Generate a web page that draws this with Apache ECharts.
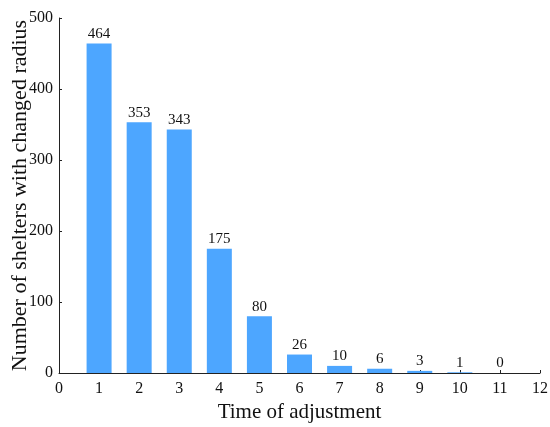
<!DOCTYPE html>
<html><head><meta charset="utf-8">
<script src="https://cdn.jsdelivr.net/npm/echarts@6/dist/echarts.min.js"></script>
<style>html,body{margin:0;padding:0;background:#fff}#c{width:550px;height:427px}</style>
</head><body><div id="c"></div>
<script>
const adjustmentTimes = [1,2,3,4,5,6,7,8,9,10,11];
const shelterCounts = [464,353,343,175,80,26,10,6,3,1,0];
const xTicks = [0,1,2,3,4,5,6,7,8,9,10,11,12];
const yTicks = [0,100,200,300,400,500];
const font = '"Liberation Serif","DejaVu Serif",serif';
const chart = echarts.init(document.getElementById('c'));
chart.setOption({
  animation:false,
  backgroundColor:'#fff',
  grid:{left:59,right:10,top:18,bottom:54,containLabel:false,outerBoundsMode:'none'},
  xAxis:{type:'value',min:0,max:12,interval:1,
    name:'Time of adjustment',nameLocation:'middle',nameGap:29,nameMoveOverlap:false,
    nameTextStyle:{fontFamily:font,fontSize:21,color:'#111'},
    axisLine:{show:true,lineStyle:{color:'#222',width:1}},
    axisTick:{show:true,inside:true,length:3,lineStyle:{color:'#222'}},
    axisLabel:{fontFamily:font,fontSize:16,color:'#111',margin:8},
    splitLine:{show:false}},
  yAxis:{type:'value',min:0,max:500,interval:100,
    name:'Number of shelters with changed radius',nameLocation:'middle',nameGap:28,nameMoveOverlap:false,
    nameTextStyle:{fontFamily:font,fontSize:22,color:'#111'},
    axisLine:{show:true,lineStyle:{color:'#222',width:1}},
    axisTick:{show:true,inside:true,length:3,lineStyle:{color:'#222'}},
    axisLabel:{fontFamily:font,fontSize:16,color:'#111',margin:6},
    splitLine:{show:false}},
  series:[{type:'bar',barWidth:25,
    data:adjustmentTimes.map((t,i)=>[t,shelterCounts[i]]),
    itemStyle:{color:'#4da6ff'},
    label:{show:true,position:'top',distance:2,fontFamily:font,fontSize:15,color:'#111',
      formatter:p=>p.value[1]}}]
});
</script></body></html>
